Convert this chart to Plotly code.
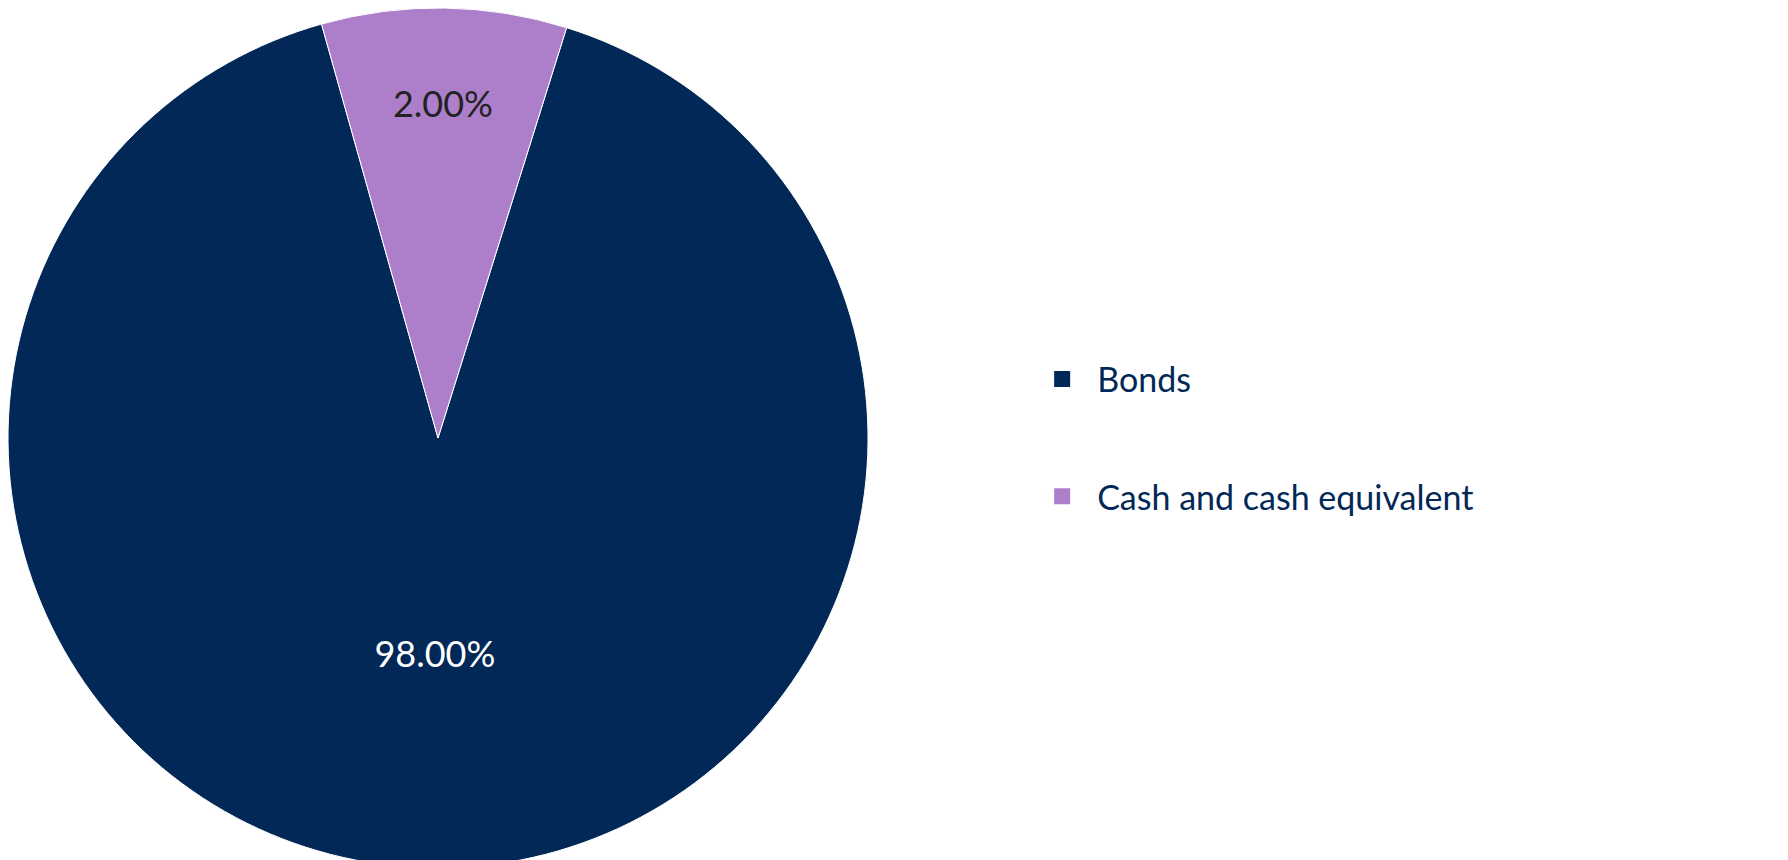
import plotly.graph_objects as go

categories = ["Bonds", "Cash and cash equivalent"]
shares = [90.8, 9.2]          # slice sizes as drawn
labels_text = ["98.00%", "2.00%"]
colors = ["#012856", "#AD7FCB"]

fig = go.Figure(go.Pie(
    labels=categories, values=shares, text=labels_text,
    textinfo="text", textposition="inside", insidetextorientation="horizontal",
    marker=dict(colors=colors, line=dict(color="white", width=1)),
    textfont=dict(family="Lato", size=36, color=["white", "#222222"]),
    sort=False, direction="clockwise", rotation=17.4, showlegend=False,
    domain=dict(x=[0, 0.481], y=[0, 1]), hoverinfo="skip"))

for name, col in zip(categories, colors):
    fig.add_trace(go.Scatter(x=[None], y=[None], mode="markers", name=name,
                             legendgroup=name, showlegend=True,
                             marker=dict(symbol="square", size=44, color=col)))

fig.update_layout(
    width=1788, height=860, margin=dict(l=0, r=0, t=0, b=0),
    paper_bgcolor="white", plot_bgcolor="white",
    xaxis=dict(visible=False), yaxis=dict(visible=False),
    legend=dict(x=0.57, y=0.5, yanchor="middle", xanchor="left",
                font=dict(family="Lato", size=34, color="#012856"),
                itemsizing="trace", itemwidth=60, tracegroupgap=70),
)
fig.write_html("out.html")
